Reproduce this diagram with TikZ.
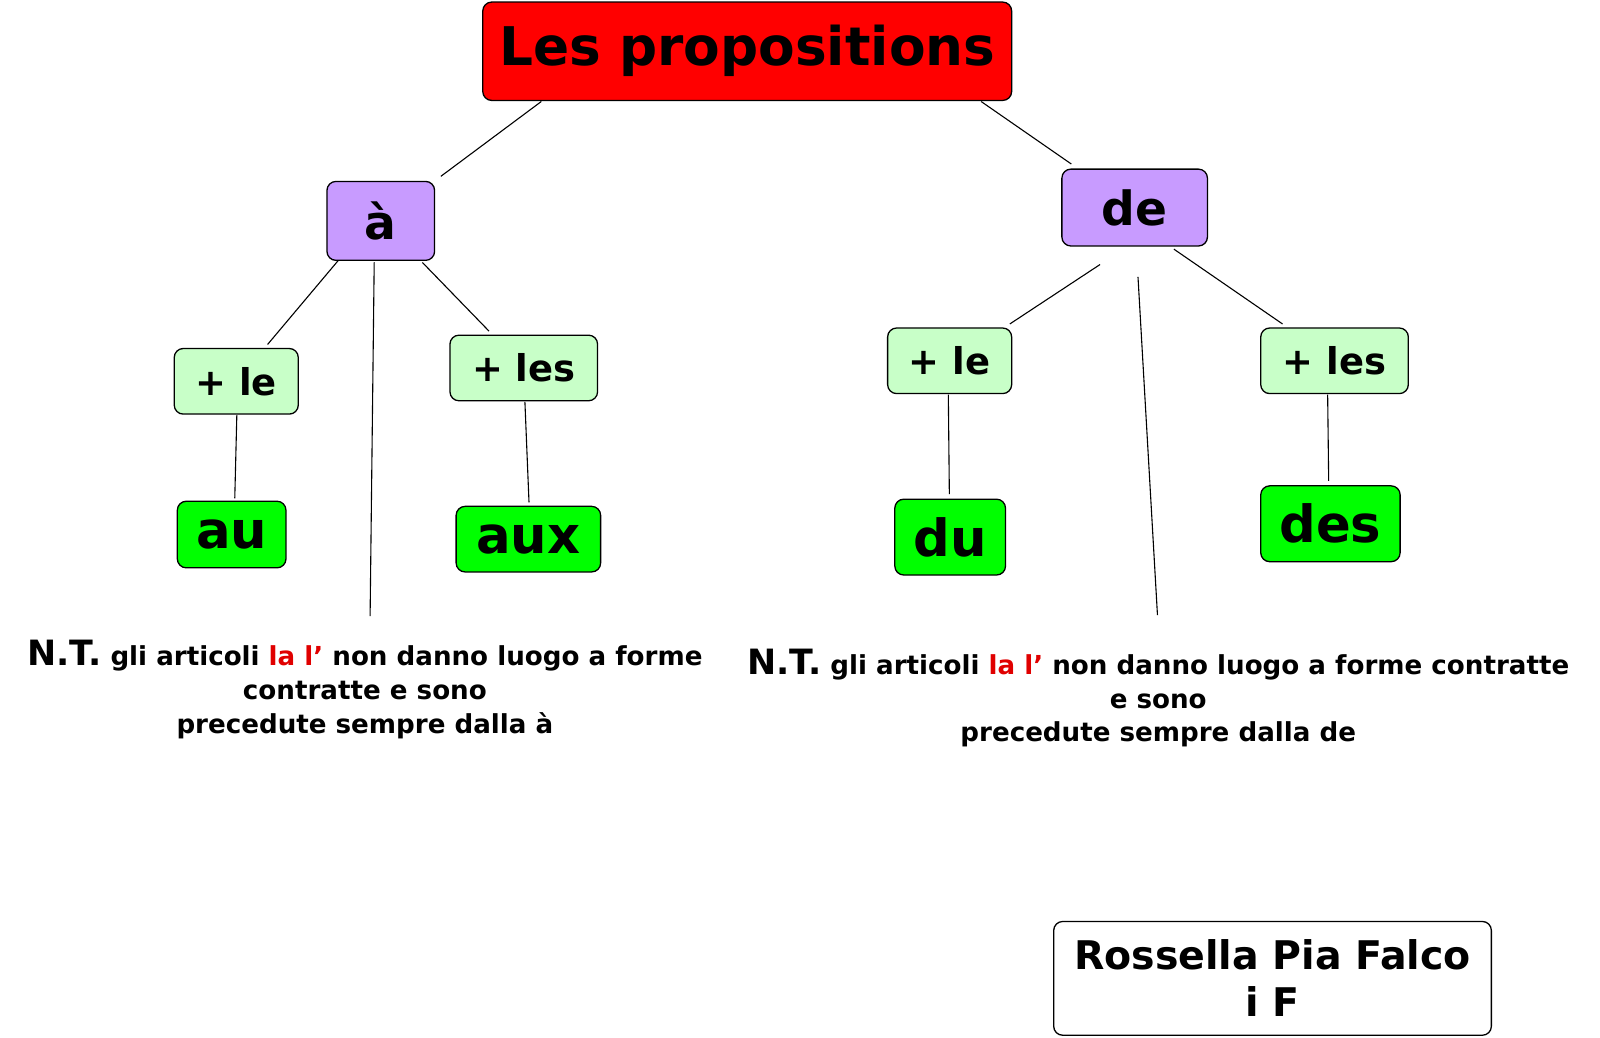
\documentclass[tikz,border=0pt]{standalone}
\usepackage{fontspec}
\setmainfont{DejaVu Sans}
\begin{document}
\begin{tikzpicture}[x=1pt,y=-1pt,scale=1.025,transform shape,
  box/.style={draw=black,line width=1.3pt,rounded corners=9pt,inner sep=0pt,font=\bfseries},
  ln/.style={line width=1.1pt}]
\useasboundingbox (0,0) rectangle (1561,1012);
\definecolor{tred}{HTML}{FF0000}
\definecolor{purp}{HTML}{C89BFF}
\definecolor{lgr}{HTML}{C8FFC8}
\definecolor{gr}{HTML}{00FF00}
\definecolor{nred}{HTML}{E00000}
\node[box,fill=tred,minimum width=516pt,minimum height=96pt,font=\fontsize{52}{56}\bfseries] (t) at (729,50) {Les propositions};
\node[box,fill=purp,minimum width=105pt,minimum height=77pt,font=\fontsize{46}{50}\bfseries] (a) at (371.5,215.5) {à};
\node[box,fill=purp,minimum width=142pt,minimum height=75pt,font=\fontsize{46}{50}\bfseries] (d) at (1107,202.5) {de};
\node[box,fill=lgr,minimum width=121pt,minimum height=64pt,font=\fontsize{36}{40}\bfseries] (l1) at (230.5,372) {+ le};
\node[box,fill=lgr,minimum width=144pt,minimum height=64pt,font=\fontsize{36}{40}\bfseries] (l2) at (511,359) {+ les};
\node[box,fill=lgr,minimum width=121pt,minimum height=64pt,font=\fontsize{36}{40}\bfseries] (l3) at (926.5,352) {+ le};
\node[box,fill=lgr,minimum width=144pt,minimum height=64pt,font=\fontsize{36}{40}\bfseries] (l4) at (1302,352) {+ les};
\node[box,fill=gr,minimum width=106pt,minimum height=65pt,font=\fontsize{50}{54}\bfseries] (au) at (226,521.5) {au};
\node[box,fill=gr,minimum width=141pt,minimum height=64pt,font=\fontsize{50}{54}\bfseries] (aux) at (515.5,526) {aux};
\node[box,fill=gr,minimum width=108pt,minimum height=74pt,font=\fontsize{50}{54}\bfseries] (du) at (927,524) {du};
\node[box,fill=gr,minimum width=136pt,minimum height=74pt,font=\fontsize{50}{54}\bfseries] (des) at (1298,511) {des};
\node[box,fill=white,minimum width=427pt,minimum height=111pt,align=center,font=\fontsize{38.5}{46}\bfseries] (r) at (1241.5,954.5) {Rossella Pia Falco\\i F};
\node[align=center,font=\fontsize{25.5}{33}\bfseries] (n1) at (356,673) {{\fontsize{34}{33}\selectfont N.T.} gli articoli \textcolor{nred}{la l'} non danno luogo a forme\\contratte e sono\\precedute sempre dalla à};
\node[align=center,font=\fontsize{25.5}{33}\bfseries] (n2) at (1130,681) {{\fontsize{34}{33}\selectfont N.T.} gli articoli \textcolor{nred}{la l'} non danno luogo a forme contratte\\e sono\\precedute sempre dalla de};
\coordinate (t1) at (528,99); \coordinate (t2) at (430,172);
\coordinate (t3) at (957,99); \coordinate (t4) at (1045,160);
\coordinate (a1) at (330,254); \coordinate (a2) at (261,336);
\coordinate (a3) at (365,256); \coordinate (a4) at (361,601);
\coordinate (a5) at (412,256); \coordinate (a6) at (477,323);
\coordinate (b1) at (231,405); \coordinate (b2) at (229,486);
\coordinate (b3) at (512,392); \coordinate (b4) at (516,490);
\coordinate (d1) at (1073,258); \coordinate (d2) at (985,316);
\coordinate (d3) at (1110,270); \coordinate (d4) at (1129,600);
\coordinate (d5) at (1145,243); \coordinate (d6) at (1251,316);
\coordinate (e1) at (925,385); \coordinate (e2) at (926,482);
\coordinate (e3) at (1295,385); \coordinate (e4) at (1296,469);
\foreach \p/\q in {t1/t2,t3/t4,a1/a2,a3/a4,a5/a6,b1/b2,b3/b4,d1/d2,d3/d4,d5/d6,e1/e2,e3/e4}
  \draw[ln] (\p) -- (\q);
\end{tikzpicture}
\end{document}
